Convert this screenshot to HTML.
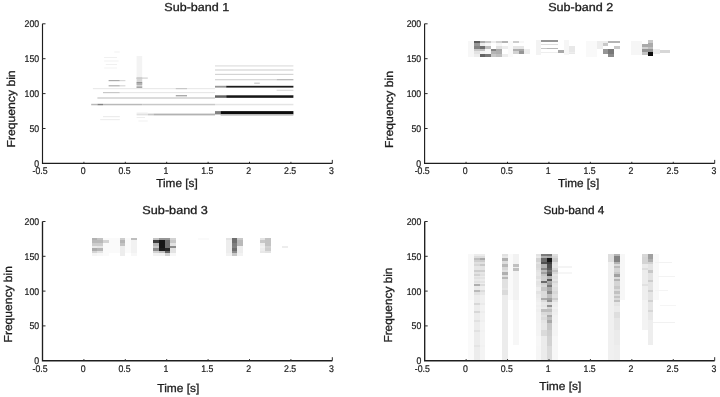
<!DOCTYPE html>
<html><head><meta charset="utf-8"><title>Sub-band spectrograms</title>
<style>
html,body{margin:0;padding:0;background:#fff;}
svg{display:block;}
.tk{font-family:"Liberation Sans", Arial, Helvetica, sans-serif;font-size:9.7px;fill:#1c1c1c;stroke:#1c1c1c;stroke-width:0.22px;text-rendering:geometricPrecision;}
.lb{font-family:"Liberation Sans", Arial, Helvetica, sans-serif;font-size:11.5px;fill:#1c1c1c;stroke:#1c1c1c;stroke-width:0.3px;text-rendering:geometricPrecision;}
.ax{fill:none;stroke:#1e1e1e;stroke-width:1.15px;}
.tkl{fill:none;stroke:#2a2a2a;stroke-width:1px;}
</style></head><body>
<svg width="720" height="397" viewBox="0 0 720 397">
<defs><filter id="sb" x="-5%" y="-5%" width="110%" height="110%"><feGaussianBlur stdDeviation="0.45"/></filter></defs>
<rect width="720" height="397" fill="#fff"/>
<g filter="url(#sb)"><rect x="104.1" y="57.0" width="12.9" height="1.0" fill="rgb(240,240,240)"/><rect x="104.1" y="60.5" width="14.6" height="1.0" fill="rgb(242,242,242)"/><rect x="105.8" y="64.0" width="11.2" height="1.0" fill="rgb(240,240,240)"/><rect x="104.1" y="67.5" width="12.9" height="1.0" fill="rgb(243,243,243)"/><rect x="114.2" y="51.5" width="5.6" height="1.0" fill="rgb(242,242,242)"/><rect x="103.0" y="116.0" width="16.8" height="1.2" fill="rgb(236,236,236)"/><rect x="100.2" y="119.0" width="19.6" height="1.2" fill="rgb(238,238,238)"/><rect x="136.6" y="112.5" width="11.2" height="1.0" fill="rgb(240,240,240)"/><rect x="136.6" y="117.0" width="8.4" height="1.0" fill="rgb(238,238,238)"/><rect x="138.3" y="120.5" width="9.5" height="1.0" fill="rgb(242,242,242)"/><rect x="92.9" y="88.0" width="122.1" height="1.2" fill="rgb(234,234,234)"/><rect x="103.0" y="92.0" width="16.8" height="1.2" fill="rgb(200,200,200)"/><rect x="119.8" y="92.0" width="95.2" height="1.2" fill="rgb(232,232,232)"/><rect x="97.4" y="97.3" width="117.6" height="1.4" fill="rgb(205,205,205)"/><rect x="91.2" y="103.8" width="6.2" height="1.5" fill="rgb(185,185,185)"/><rect x="97.4" y="103.8" width="5.6" height="1.5" fill="rgb(130,130,130)"/><rect x="103.0" y="103.8" width="39.2" height="1.5" fill="rgb(185,185,185)"/><rect x="142.2" y="103.8" width="72.8" height="1.5" fill="rgb(200,200,200)"/><rect x="215.0" y="103.8" width="78.4" height="1.5" fill="rgb(228,228,228)"/><rect x="136.6" y="113.6" width="11.2" height="1.8" fill="rgb(225,225,225)"/><rect x="147.8" y="113.6" width="5.6" height="1.8" fill="rgb(200,200,200)"/><rect x="153.4" y="113.6" width="61.6" height="1.8" fill="rgb(178,178,178)"/><rect x="136.6" y="56.0" width="5.6" height="21.0" fill="rgb(243,243,243)"/><rect x="136.6" y="77.0" width="5.6" height="11.0" fill="rgb(215,215,215)"/><rect x="136.6" y="77.8" width="5.6" height="1.2" fill="rgb(195,195,195)"/><rect x="136.6" y="82.0" width="5.6" height="1.4" fill="rgb(150,150,150)"/><rect x="136.6" y="83.4" width="5.6" height="1.4" fill="rgb(170,170,170)"/><rect x="136.6" y="86.5" width="5.6" height="1.5" fill="rgb(165,165,165)"/><rect x="108.6" y="80.0" width="11.2" height="1.2" fill="rgb(170,170,170)"/><rect x="108.6" y="85.2" width="11.2" height="1.2" fill="rgb(175,175,175)"/><rect x="119.8" y="80.0" width="5.6" height="1.2" fill="rgb(215,215,215)"/><rect x="119.8" y="85.2" width="5.6" height="1.2" fill="rgb(215,215,215)"/><rect x="136.6" y="77.5" width="11.2" height="1.2" fill="rgb(210,210,210)"/><rect x="175.8" y="88.0" width="11.2" height="1.2" fill="rgb(200,200,200)"/><rect x="175.8" y="95.0" width="11.2" height="1.4" fill="rgb(170,170,170)"/><rect x="215.0" y="85.8" width="11.2" height="1.8" fill="rgb(150,150,150)"/><rect x="226.2" y="85.8" width="67.2" height="1.8" fill="rgb(30,30,30)"/><rect x="215.0" y="95.3" width="11.2" height="2.5" fill="rgb(100,100,100)"/><rect x="226.2" y="95.3" width="67.2" height="2.5" fill="rgb(20,20,20)"/><rect x="215.0" y="111.1" width="5.6" height="3.3" fill="rgb(130,130,130)"/><rect x="220.6" y="111.1" width="72.8" height="3.3" fill="rgb(10,10,10)"/><rect x="220.6" y="114.4" width="72.8" height="1.4" fill="rgb(200,200,200)"/><rect x="215.0" y="65.3" width="78.4" height="1.2" fill="rgb(222,222,222)"/><rect x="215.0" y="69.4" width="78.4" height="1.2" fill="rgb(212,212,212)"/><rect x="215.0" y="73.8" width="78.4" height="1.2" fill="rgb(212,212,212)"/><rect x="215.0" y="79.1" width="61.6" height="1.2" fill="rgb(212,212,212)"/><rect x="276.6" y="79.1" width="16.8" height="1.2" fill="rgb(180,180,180)"/><rect x="254.2" y="82.6" width="5.6" height="1.2" fill="rgb(200,200,200)"/><rect x="276.6" y="89.7" width="16.8" height="1.2" fill="rgb(220,220,220)"/></g>
<path d="M42.5 23.8V163.4H332.3" class="ax"/>
<text transform="translate(40.1 174.3) scale(0.9 1)" class="tk" text-anchor="middle">-0.5</text>
<text transform="translate(83.1 174.3) scale(0.9 1)" class="tk" text-anchor="middle">0</text>
<text transform="translate(124.5 174.3) scale(0.9 1)" class="tk" text-anchor="middle">0.5</text>
<text transform="translate(165.9 174.3) scale(0.9 1)" class="tk" text-anchor="middle">1</text>
<text transform="translate(207.3 174.3) scale(0.9 1)" class="tk" text-anchor="middle">1.5</text>
<text transform="translate(248.7 174.3) scale(0.9 1)" class="tk" text-anchor="middle">2</text>
<text transform="translate(290.1 174.3) scale(0.9 1)" class="tk" text-anchor="middle">2.5</text>
<text transform="translate(331.5 174.3) scale(0.9 1)" class="tk" text-anchor="middle">3</text>
<text transform="translate(39.1 166.9) scale(0.9 1)" class="tk" text-anchor="end">0</text>
<text transform="translate(39.1 132) scale(0.9 1)" class="tk" text-anchor="end">50</text>
<text transform="translate(39.1 97.1) scale(0.9 1)" class="tk" text-anchor="end">100</text>
<text transform="translate(39.1 62.2) scale(0.9 1)" class="tk" text-anchor="end">150</text>
<text transform="translate(39.1 27.3) scale(0.9 1)" class="tk" text-anchor="end">200</text>
<path d="M83.9 163.4v-1.6 M125.3 163.4v-1.6 M166.7 163.4v-1.6 M208.1 163.4v-1.6 M249.5 163.4v-1.6 M290.9 163.4v-1.6 M332.3 163.4v-3.5 M42.5 128.5h3 M42.5 93.6h3 M42.5 58.7h3 M42.5 23.8h3" class="tkl"/>
<text x="196.8" y="11.1" class="lb" text-anchor="middle" textLength="65" lengthAdjust="spacingAndGlyphs">Sub-band 1</text>
<text x="176.95" y="186.7" class="lb" text-anchor="middle" textLength="41.5" lengthAdjust="spacingAndGlyphs">Time [s]</text>
<text transform="translate(15.1 108.9) rotate(-90)" class="lb" text-anchor="middle" textLength="77" lengthAdjust="spacingAndGlyphs">Frequency bin</text>
<g filter="url(#sb)" shape-rendering="crispEdges"><rect x="468.4" y="40.6" width="5.6" height="2.7" fill="rgb(247,247,247)"/><rect x="468.4" y="43.3" width="5.6" height="2.7" fill="rgb(247,247,247)"/><rect x="468.4" y="46.0" width="5.6" height="2.7" fill="rgb(247,247,247)"/><rect x="468.4" y="48.7" width="5.6" height="2.7" fill="rgb(247,247,247)"/><rect x="468.4" y="51.4" width="5.6" height="2.7" fill="rgb(247,247,247)"/><rect x="468.4" y="54.1" width="5.6" height="2.7" fill="rgb(247,247,247)"/><rect x="474.0" y="40.6" width="5.6" height="2.7" fill="rgb(90,90,90)"/><rect x="474.0" y="43.3" width="5.6" height="2.7" fill="rgb(150,150,150)"/><rect x="474.0" y="46.0" width="5.6" height="2.7" fill="rgb(130,130,130)"/><rect x="474.0" y="48.7" width="5.6" height="2.7" fill="rgb(200,200,200)"/><rect x="474.0" y="51.4" width="5.6" height="2.7" fill="rgb(227,227,227)"/><rect x="474.0" y="54.1" width="5.6" height="2.7" fill="rgb(237,237,237)"/><rect x="479.6" y="40.6" width="5.6" height="2.7" fill="rgb(170,170,170)"/><rect x="479.6" y="43.3" width="5.6" height="2.7" fill="rgb(237,237,237)"/><rect x="479.6" y="46.0" width="5.6" height="2.7" fill="rgb(110,110,110)"/><rect x="479.6" y="48.7" width="5.6" height="2.7" fill="rgb(195,195,195)"/><rect x="479.6" y="51.4" width="5.6" height="2.7" fill="rgb(242,242,242)"/><rect x="479.6" y="54.1" width="5.6" height="2.7" fill="rgb(100,100,100)"/><rect x="485.2" y="40.6" width="5.6" height="2.7" fill="rgb(200,200,200)"/><rect x="485.2" y="43.3" width="5.6" height="2.7" fill="rgb(247,247,247)"/><rect x="485.2" y="46.0" width="5.6" height="2.7" fill="rgb(190,190,190)"/><rect x="485.2" y="48.7" width="5.6" height="2.7" fill="rgb(247,247,247)"/><rect x="485.2" y="51.4" width="5.6" height="2.7" fill="rgb(247,247,247)"/><rect x="485.2" y="54.1" width="5.6" height="2.7" fill="rgb(120,120,120)"/><rect x="490.8" y="40.6" width="5.6" height="2.7" fill="rgb(237,237,237)"/><rect x="490.8" y="48.7" width="5.6" height="2.7" fill="rgb(130,130,130)"/><rect x="490.8" y="51.4" width="5.6" height="2.7" fill="rgb(180,180,180)"/><rect x="490.8" y="54.1" width="5.6" height="2.7" fill="rgb(200,200,200)"/><rect x="496.4" y="40.6" width="5.6" height="2.7" fill="rgb(210,210,210)"/><rect x="496.4" y="43.3" width="5.6" height="2.7" fill="rgb(247,247,247)"/><rect x="496.4" y="46.0" width="5.6" height="2.7" fill="rgb(227,227,227)"/><rect x="496.4" y="48.7" width="5.6" height="2.7" fill="rgb(170,170,170)"/><rect x="496.4" y="51.4" width="5.6" height="2.7" fill="rgb(175,175,175)"/><rect x="496.4" y="54.1" width="5.6" height="2.7" fill="rgb(190,190,190)"/><rect x="502.0" y="40.6" width="5.6" height="2.7" fill="rgb(180,180,180)"/><rect x="502.0" y="46.0" width="5.6" height="2.7" fill="rgb(237,237,237)"/><rect x="502.0" y="54.1" width="5.6" height="2.7" fill="rgb(237,237,237)"/><rect x="507.6" y="40.6" width="5.6" height="2.7" fill="rgb(250,250,250)"/><rect x="507.6" y="43.3" width="5.6" height="2.7" fill="rgb(250,250,250)"/><rect x="507.6" y="46.0" width="5.6" height="2.7" fill="rgb(250,250,250)"/><rect x="507.6" y="48.7" width="5.6" height="2.7" fill="rgb(250,250,250)"/><rect x="507.6" y="51.4" width="5.6" height="2.7" fill="rgb(250,250,250)"/><rect x="507.6" y="54.1" width="5.6" height="2.7" fill="rgb(250,250,250)"/><rect x="513.2" y="40.6" width="5.6" height="2.7" fill="rgb(205,205,205)"/><rect x="513.2" y="46.0" width="5.6" height="2.7" fill="rgb(230,230,230)"/><rect x="513.2" y="48.7" width="5.6" height="2.7" fill="rgb(175,175,175)"/><rect x="513.2" y="51.4" width="5.6" height="2.7" fill="rgb(210,210,210)"/><rect x="518.8" y="40.6" width="5.6" height="2.7" fill="rgb(247,247,247)"/><rect x="518.8" y="46.0" width="5.6" height="2.7" fill="rgb(230,230,230)"/><rect x="518.8" y="48.7" width="5.6" height="2.7" fill="rgb(168,168,168)"/><rect x="518.8" y="51.4" width="5.6" height="2.7" fill="rgb(150,150,150)"/><rect x="524.4" y="48.7" width="5.6" height="2.7" fill="rgb(237,237,237)"/><rect x="524.4" y="51.4" width="5.6" height="2.7" fill="rgb(237,237,237)"/><rect x="569.2" y="46.0" width="5.6" height="2.7" fill="rgb(232,232,232)"/><rect x="569.2" y="48.7" width="5.6" height="2.7" fill="rgb(232,232,232)"/><rect x="569.2" y="51.4" width="5.6" height="2.7" fill="rgb(232,232,232)"/><rect x="586.0" y="40.6" width="5.6" height="2.7" fill="rgb(249,249,249)"/><rect x="586.0" y="43.3" width="5.6" height="2.7" fill="rgb(249,249,249)"/><rect x="586.0" y="46.0" width="5.6" height="2.7" fill="rgb(249,249,249)"/><rect x="586.0" y="48.7" width="5.6" height="2.7" fill="rgb(249,249,249)"/><rect x="586.0" y="51.4" width="5.6" height="2.7" fill="rgb(249,249,249)"/><rect x="586.0" y="54.1" width="5.6" height="2.7" fill="rgb(249,249,249)"/><rect x="591.6" y="40.6" width="5.6" height="2.7" fill="rgb(249,249,249)"/><rect x="591.6" y="43.3" width="5.6" height="2.7" fill="rgb(249,249,249)"/><rect x="591.6" y="46.0" width="5.6" height="2.7" fill="rgb(249,249,249)"/><rect x="591.6" y="48.7" width="5.6" height="2.7" fill="rgb(249,249,249)"/><rect x="591.6" y="51.4" width="5.6" height="2.7" fill="rgb(249,249,249)"/><rect x="591.6" y="54.1" width="5.6" height="2.7" fill="rgb(249,249,249)"/><rect x="597.2" y="40.6" width="5.6" height="2.7" fill="rgb(237,237,237)"/><rect x="597.2" y="43.3" width="5.6" height="2.7" fill="rgb(237,237,237)"/><rect x="597.2" y="46.0" width="5.6" height="2.7" fill="rgb(237,237,237)"/><rect x="602.8" y="40.6" width="5.6" height="2.7" fill="rgb(237,237,237)"/><rect x="602.8" y="43.3" width="5.6" height="2.7" fill="rgb(200,200,200)"/><rect x="602.8" y="48.7" width="5.6" height="2.7" fill="rgb(150,150,150)"/><rect x="602.8" y="51.4" width="5.6" height="2.7" fill="rgb(150,150,150)"/><rect x="608.4" y="40.6" width="5.6" height="2.7" fill="rgb(180,180,180)"/><rect x="608.4" y="48.7" width="5.6" height="2.7" fill="rgb(120,120,120)"/><rect x="608.4" y="51.4" width="5.6" height="2.7" fill="rgb(120,120,120)"/><rect x="608.4" y="54.1" width="5.6" height="2.7" fill="rgb(140,140,140)"/><rect x="614.0" y="40.6" width="5.6" height="2.7" fill="rgb(180,180,180)"/><rect x="614.0" y="46.0" width="5.6" height="2.7" fill="rgb(200,200,200)"/><rect x="535.6" y="40.0" width="5.6" height="15.0" fill="rgb(243,243,243)"/><rect x="541.2" y="40.3" width="16.8" height="1.6" fill="rgb(148,148,148)"/><rect x="541.2" y="43.8" width="16.8" height="1.4" fill="rgb(222,222,222)"/><rect x="541.2" y="47.7" width="5.6" height="1.6" fill="rgb(200,200,200)"/><rect x="546.8" y="47.7" width="11.2" height="1.6" fill="rgb(185,185,185)"/><rect x="541.2" y="51.6" width="33.8" height="1.4" fill="rgb(238,238,238)"/><rect x="558.0" y="49.8" width="5.6" height="3.2" fill="rgb(168,168,168)"/><rect x="563.6" y="40.0" width="5.6" height="15.0" fill="rgb(246,246,246)"/><rect x="631.0" y="41.0" width="11.0" height="14.0" fill="rgb(246,246,246)"/><rect x="642.0" y="43.9" width="5.6" height="2.8" fill="rgb(170,170,170)"/><rect x="642.0" y="46.7" width="5.6" height="2.1" fill="rgb(210,210,210)"/><rect x="642.0" y="48.8" width="5.6" height="2.7" fill="rgb(150,150,150)"/><rect x="642.0" y="51.5" width="5.6" height="3.5" fill="rgb(195,195,195)"/><rect x="647.6" y="40.3" width="5.6" height="2.7" fill="rgb(200,200,200)"/><rect x="647.6" y="43.0" width="5.6" height="3.5" fill="rgb(170,170,170)"/><rect x="647.6" y="46.5" width="5.6" height="2.5" fill="rgb(190,190,190)"/><rect x="647.6" y="49.0" width="5.6" height="3.0" fill="rgb(150,150,150)"/><rect x="647.6" y="52.0" width="5.6" height="3.5" fill="rgb(12,12,12)"/><rect x="653.2" y="49.0" width="6.8" height="5.0" fill="rgb(236,236,236)"/><rect x="660.0" y="50.0" width="10.0" height="3.0" fill="rgb(215,215,215)"/></g>
<path d="M424.6 23.8V163.4H714.7" class="ax"/>
<text transform="translate(422.2 174.3) scale(0.9 1)" class="tk" text-anchor="middle">-0.5</text>
<text transform="translate(465.24 174.3) scale(0.9 1)" class="tk" text-anchor="middle">0</text>
<text transform="translate(506.69 174.3) scale(0.9 1)" class="tk" text-anchor="middle">0.5</text>
<text transform="translate(548.13 174.3) scale(0.9 1)" class="tk" text-anchor="middle">1</text>
<text transform="translate(589.57 174.3) scale(0.9 1)" class="tk" text-anchor="middle">1.5</text>
<text transform="translate(631.01 174.3) scale(0.9 1)" class="tk" text-anchor="middle">2</text>
<text transform="translate(672.46 174.3) scale(0.9 1)" class="tk" text-anchor="middle">2.5</text>
<text transform="translate(713.9 174.3) scale(0.9 1)" class="tk" text-anchor="middle">3</text>
<text transform="translate(421.2 166.9) scale(0.9 1)" class="tk" text-anchor="end">0</text>
<text transform="translate(421.2 132) scale(0.9 1)" class="tk" text-anchor="end">50</text>
<text transform="translate(421.2 97.1) scale(0.9 1)" class="tk" text-anchor="end">100</text>
<text transform="translate(421.2 62.2) scale(0.9 1)" class="tk" text-anchor="end">150</text>
<text transform="translate(421.2 27.3) scale(0.9 1)" class="tk" text-anchor="end">200</text>
<path d="M466.04 163.4v-1.6 M507.49 163.4v-1.6 M548.93 163.4v-1.6 M590.37 163.4v-1.6 M631.81 163.4v-1.6 M673.26 163.4v-1.6 M714.7 163.4v-3.5 M424.6 128.5h3 M424.6 93.6h3 M424.6 58.7h3 M424.6 23.8h3" class="tkl"/>
<text x="580.65" y="11.1" class="lb" text-anchor="middle" textLength="65" lengthAdjust="spacingAndGlyphs">Sub-band 2</text>
<text x="578.6" y="187.2" class="lb" text-anchor="middle" textLength="41.2" lengthAdjust="spacingAndGlyphs">Time [s]</text>
<text transform="translate(393.1 109.5) rotate(-90)" class="lb" text-anchor="middle" textLength="77" lengthAdjust="spacingAndGlyphs">Frequency bin</text>
<g filter="url(#sb)" shape-rendering="crispEdges"><rect x="91.8" y="237.8" width="5.6" height="2.6" fill="rgb(178,178,178)"/><rect x="91.8" y="240.4" width="5.6" height="2.6" fill="rgb(185,185,185)"/><rect x="91.8" y="243.0" width="5.6" height="2.6" fill="rgb(205,205,205)"/><rect x="91.8" y="245.6" width="5.6" height="2.6" fill="rgb(234,234,234)"/><rect x="91.8" y="248.2" width="5.6" height="2.6" fill="rgb(172,172,172)"/><rect x="91.8" y="250.8" width="5.6" height="2.6" fill="rgb(212,212,212)"/><rect x="91.8" y="253.4" width="5.6" height="2.6" fill="rgb(244,244,244)"/><rect x="97.4" y="237.8" width="5.6" height="2.6" fill="rgb(195,195,195)"/><rect x="97.4" y="240.4" width="5.6" height="2.6" fill="rgb(185,185,185)"/><rect x="97.4" y="243.0" width="5.6" height="2.6" fill="rgb(205,205,205)"/><rect x="97.4" y="245.6" width="5.6" height="2.6" fill="rgb(230,230,230)"/><rect x="97.4" y="248.2" width="5.6" height="2.6" fill="rgb(182,182,182)"/><rect x="97.4" y="250.8" width="5.6" height="2.6" fill="rgb(227,227,227)"/><rect x="97.4" y="253.4" width="5.6" height="2.6" fill="rgb(247,247,247)"/><rect x="103.0" y="237.8" width="5.6" height="2.6" fill="rgb(250,250,250)"/><rect x="103.0" y="240.4" width="5.6" height="2.6" fill="rgb(212,212,212)"/><rect x="103.0" y="243.0" width="5.6" height="2.6" fill="rgb(250,250,250)"/><rect x="103.0" y="245.6" width="5.6" height="2.6" fill="rgb(250,250,250)"/><rect x="103.0" y="248.2" width="5.6" height="2.6" fill="rgb(250,250,250)"/><rect x="103.0" y="250.8" width="5.6" height="2.6" fill="rgb(250,250,250)"/><rect x="103.0" y="253.4" width="5.6" height="2.6" fill="rgb(250,250,250)"/><rect x="108.6" y="237.8" width="5.6" height="2.6" fill="rgb(250,250,250)"/><rect x="108.6" y="240.4" width="5.6" height="2.6" fill="rgb(250,250,250)"/><rect x="108.6" y="243.0" width="5.6" height="2.6" fill="rgb(250,250,250)"/><rect x="108.6" y="245.6" width="5.6" height="2.6" fill="rgb(250,250,250)"/><rect x="108.6" y="248.2" width="5.6" height="2.6" fill="rgb(250,250,250)"/><rect x="108.6" y="250.8" width="5.6" height="2.6" fill="rgb(250,250,250)"/><rect x="114.2" y="237.8" width="5.6" height="2.6" fill="rgb(250,250,250)"/><rect x="114.2" y="240.4" width="5.6" height="2.6" fill="rgb(250,250,250)"/><rect x="114.2" y="243.0" width="5.6" height="2.6" fill="rgb(250,250,250)"/><rect x="114.2" y="245.6" width="5.6" height="2.6" fill="rgb(250,250,250)"/><rect x="114.2" y="248.2" width="5.6" height="2.6" fill="rgb(250,250,250)"/><rect x="114.2" y="250.8" width="5.6" height="2.6" fill="rgb(250,250,250)"/><rect x="119.8" y="237.8" width="5.6" height="2.6" fill="rgb(205,205,205)"/><rect x="119.8" y="240.4" width="5.6" height="2.6" fill="rgb(180,180,180)"/><rect x="119.8" y="243.0" width="5.6" height="2.6" fill="rgb(195,195,195)"/><rect x="119.8" y="245.6" width="5.6" height="2.6" fill="rgb(237,237,237)"/><rect x="119.8" y="248.2" width="5.6" height="2.6" fill="rgb(237,237,237)"/><rect x="119.8" y="250.8" width="5.6" height="2.6" fill="rgb(237,237,237)"/><rect x="119.8" y="253.4" width="5.6" height="2.6" fill="rgb(237,237,237)"/><rect x="125.4" y="237.8" width="5.6" height="2.6" fill="rgb(250,250,250)"/><rect x="125.4" y="240.4" width="5.6" height="2.6" fill="rgb(250,250,250)"/><rect x="125.4" y="243.0" width="5.6" height="2.6" fill="rgb(250,250,250)"/><rect x="125.4" y="245.6" width="5.6" height="2.6" fill="rgb(250,250,250)"/><rect x="125.4" y="248.2" width="5.6" height="2.6" fill="rgb(250,250,250)"/><rect x="125.4" y="250.8" width="5.6" height="2.6" fill="rgb(250,250,250)"/><rect x="131.0" y="237.8" width="5.6" height="2.6" fill="rgb(190,190,190)"/><rect x="131.0" y="240.4" width="5.6" height="2.6" fill="rgb(242,242,242)"/><rect x="131.0" y="243.0" width="5.6" height="2.6" fill="rgb(242,242,242)"/><rect x="131.0" y="245.6" width="5.6" height="2.6" fill="rgb(242,242,242)"/><rect x="131.0" y="248.2" width="5.6" height="2.6" fill="rgb(242,242,242)"/><rect x="131.0" y="250.8" width="5.6" height="2.6" fill="rgb(242,242,242)"/><rect x="131.0" y="253.4" width="5.6" height="2.6" fill="rgb(247,247,247)"/><rect x="153.4" y="237.8" width="5.6" height="2.6" fill="rgb(195,195,195)"/><rect x="153.4" y="240.4" width="5.6" height="2.6" fill="rgb(60,60,60)"/><rect x="153.4" y="243.0" width="5.6" height="2.6" fill="rgb(180,180,180)"/><rect x="153.4" y="245.6" width="5.6" height="2.6" fill="rgb(200,200,200)"/><rect x="153.4" y="248.2" width="5.6" height="2.6" fill="rgb(140,140,140)"/><rect x="153.4" y="250.8" width="5.6" height="2.6" fill="rgb(210,210,210)"/><rect x="153.4" y="253.4" width="5.6" height="2.6" fill="rgb(242,242,242)"/><rect x="159.0" y="237.8" width="5.6" height="2.6" fill="rgb(150,150,150)"/><rect x="159.0" y="240.4" width="5.6" height="2.6" fill="rgb(20,20,20)"/><rect x="159.0" y="243.0" width="5.6" height="2.6" fill="rgb(20,20,20)"/><rect x="159.0" y="245.6" width="5.6" height="2.6" fill="rgb(20,20,20)"/><rect x="159.0" y="248.2" width="5.6" height="2.6" fill="rgb(30,30,30)"/><rect x="159.0" y="250.8" width="5.6" height="2.6" fill="rgb(190,190,190)"/><rect x="159.0" y="253.4" width="5.6" height="2.6" fill="rgb(242,242,242)"/><rect x="164.6" y="237.8" width="5.6" height="2.6" fill="rgb(150,150,150)"/><rect x="164.6" y="240.4" width="5.6" height="2.6" fill="rgb(110,110,110)"/><rect x="164.6" y="243.0" width="5.6" height="2.6" fill="rgb(110,110,110)"/><rect x="164.6" y="245.6" width="5.6" height="2.6" fill="rgb(110,110,110)"/><rect x="164.6" y="248.2" width="5.6" height="2.6" fill="rgb(40,40,40)"/><rect x="164.6" y="250.8" width="5.6" height="2.6" fill="rgb(100,100,100)"/><rect x="164.6" y="253.4" width="5.6" height="2.6" fill="rgb(210,210,210)"/><rect x="170.2" y="237.8" width="5.6" height="2.6" fill="rgb(210,210,210)"/><rect x="170.2" y="240.4" width="5.6" height="2.6" fill="rgb(200,200,200)"/><rect x="170.2" y="243.0" width="5.6" height="2.6" fill="rgb(227,227,227)"/><rect x="170.2" y="245.6" width="5.6" height="2.6" fill="rgb(140,140,140)"/><rect x="170.2" y="248.2" width="5.6" height="2.6" fill="rgb(227,227,227)"/><rect x="170.2" y="250.8" width="5.6" height="2.6" fill="rgb(227,227,227)"/><rect x="170.2" y="253.4" width="5.6" height="2.6" fill="rgb(247,247,247)"/><rect x="198.2" y="237.8" width="5.6" height="2.6" fill="rgb(250,250,250)"/><rect x="203.8" y="237.8" width="5.6" height="2.6" fill="rgb(250,250,250)"/><rect x="226.2" y="237.8" width="5.6" height="2.6" fill="rgb(227,227,227)"/><rect x="226.2" y="240.4" width="5.6" height="2.6" fill="rgb(237,237,237)"/><rect x="226.2" y="243.0" width="5.6" height="2.6" fill="rgb(237,237,237)"/><rect x="226.2" y="245.6" width="5.6" height="2.6" fill="rgb(237,237,237)"/><rect x="226.2" y="248.2" width="5.6" height="2.6" fill="rgb(237,237,237)"/><rect x="226.2" y="250.8" width="5.6" height="2.6" fill="rgb(237,237,237)"/><rect x="226.2" y="253.4" width="5.6" height="2.6" fill="rgb(242,242,242)"/><rect x="231.8" y="237.8" width="5.6" height="2.6" fill="rgb(110,110,110)"/><rect x="231.8" y="240.4" width="5.6" height="2.6" fill="rgb(110,110,110)"/><rect x="231.8" y="243.0" width="5.6" height="2.6" fill="rgb(125,125,125)"/><rect x="231.8" y="245.6" width="5.6" height="2.6" fill="rgb(130,130,130)"/><rect x="231.8" y="248.2" width="5.6" height="2.6" fill="rgb(110,110,110)"/><rect x="231.8" y="250.8" width="5.6" height="2.6" fill="rgb(140,140,140)"/><rect x="231.8" y="253.4" width="5.6" height="2.6" fill="rgb(200,200,200)"/><rect x="237.4" y="237.8" width="5.6" height="2.6" fill="rgb(200,200,200)"/><rect x="237.4" y="240.4" width="5.6" height="2.6" fill="rgb(185,185,185)"/><rect x="237.4" y="243.0" width="5.6" height="2.6" fill="rgb(185,185,185)"/><rect x="237.4" y="245.6" width="5.6" height="2.6" fill="rgb(237,237,237)"/><rect x="237.4" y="248.2" width="5.6" height="2.6" fill="rgb(237,237,237)"/><rect x="237.4" y="250.8" width="5.6" height="2.6" fill="rgb(237,237,237)"/><rect x="237.4" y="253.4" width="5.6" height="2.6" fill="rgb(242,242,242)"/><rect x="259.8" y="237.8" width="5.6" height="2.6" fill="rgb(227,227,227)"/><rect x="259.8" y="240.4" width="5.6" height="2.6" fill="rgb(200,200,200)"/><rect x="259.8" y="243.0" width="5.6" height="2.6" fill="rgb(237,237,237)"/><rect x="259.8" y="245.6" width="5.6" height="2.6" fill="rgb(242,242,242)"/><rect x="259.8" y="248.2" width="5.6" height="2.6" fill="rgb(237,237,237)"/><rect x="259.8" y="250.8" width="5.6" height="2.6" fill="rgb(232,232,232)"/><rect x="265.4" y="237.8" width="5.6" height="2.6" fill="rgb(195,195,195)"/><rect x="265.4" y="240.4" width="5.6" height="2.6" fill="rgb(195,195,195)"/><rect x="265.4" y="243.0" width="5.6" height="2.6" fill="rgb(195,195,195)"/><rect x="265.4" y="245.6" width="5.6" height="2.6" fill="rgb(210,210,210)"/><rect x="265.4" y="248.2" width="5.6" height="2.6" fill="rgb(205,205,205)"/><rect x="265.4" y="250.8" width="5.6" height="2.6" fill="rgb(227,227,227)"/><rect x="282.2" y="245.6" width="5.6" height="2.6" fill="rgb(237,237,237)"/></g>
<path d="M42.5 221.5V360.7H332.3" class="ax" style="stroke-width:1.35px"/>
<text transform="translate(40.1 371.6) scale(0.9 1)" class="tk" text-anchor="middle">-0.5</text>
<text transform="translate(83.1 371.6) scale(0.9 1)" class="tk" text-anchor="middle">0</text>
<text transform="translate(124.5 371.6) scale(0.9 1)" class="tk" text-anchor="middle">0.5</text>
<text transform="translate(165.9 371.6) scale(0.9 1)" class="tk" text-anchor="middle">1</text>
<text transform="translate(207.3 371.6) scale(0.9 1)" class="tk" text-anchor="middle">1.5</text>
<text transform="translate(248.7 371.6) scale(0.9 1)" class="tk" text-anchor="middle">2</text>
<text transform="translate(290.1 371.6) scale(0.9 1)" class="tk" text-anchor="middle">2.5</text>
<text transform="translate(331.5 371.6) scale(0.9 1)" class="tk" text-anchor="middle">3</text>
<text transform="translate(39.1 364.2) scale(0.9 1)" class="tk" text-anchor="end">0</text>
<text transform="translate(39.1 329.4) scale(0.9 1)" class="tk" text-anchor="end">50</text>
<text transform="translate(39.1 294.6) scale(0.9 1)" class="tk" text-anchor="end">100</text>
<text transform="translate(39.1 259.8) scale(0.9 1)" class="tk" text-anchor="end">150</text>
<text transform="translate(39.1 225) scale(0.9 1)" class="tk" text-anchor="end">200</text>
<path d="M83.9 360.7v-1.6 M125.3 360.7v-1.6 M166.7 360.7v-1.6 M208.1 360.7v-1.6 M249.5 360.7v-1.6 M290.9 360.7v-1.6 M332.3 360.7v-3.5 M42.5 325.9h3 M42.5 291.1h3 M42.5 256.3h3 M42.5 221.5h3" class="tkl"/>
<text x="175.1" y="213.75" class="lb" text-anchor="middle" textLength="65.5" lengthAdjust="spacingAndGlyphs">Sub-band 3</text>
<text x="178.3" y="391.7" class="lb" text-anchor="middle" textLength="42" lengthAdjust="spacingAndGlyphs">Time [s]</text>
<text transform="translate(11.6 304.3) rotate(-90)" class="lb" text-anchor="middle" textLength="76.4" lengthAdjust="spacingAndGlyphs">Frequency bin</text>
<g filter="url(#sb)" shape-rendering="crispEdges"><rect x="468.4" y="253.5" width="5.6" height="46.5" fill="rgb(248,248,248)"/><rect x="468.4" y="300.0" width="5.6" height="60.0" fill="rgb(250,250,250)"/><rect x="474.0" y="253.5" width="5.6" height="2.5" fill="rgb(236,236,236)"/><rect x="474.0" y="256.0" width="5.6" height="1.5" fill="rgb(222,222,222)"/><rect x="474.0" y="257.5" width="5.6" height="2.0" fill="rgb(190,190,190)"/><rect x="474.0" y="259.5" width="5.6" height="2.0" fill="rgb(207,207,207)"/><rect x="474.0" y="261.5" width="5.6" height="2.5" fill="rgb(224,224,224)"/><rect x="474.0" y="264.0" width="5.6" height="2.0" fill="rgb(215,215,215)"/><rect x="474.0" y="266.0" width="5.6" height="4.0" fill="rgb(230,230,230)"/><rect x="474.0" y="270.0" width="5.6" height="2.0" fill="rgb(205,205,205)"/><rect x="474.0" y="272.0" width="5.6" height="2.0" fill="rgb(226,226,226)"/><rect x="474.0" y="274.0" width="5.6" height="1.5" fill="rgb(210,210,210)"/><rect x="474.0" y="275.5" width="5.6" height="1.5" fill="rgb(232,232,232)"/><rect x="474.0" y="277.0" width="5.6" height="2.0" fill="rgb(225,225,225)"/><rect x="474.0" y="279.0" width="5.6" height="2.0" fill="rgb(233,233,233)"/><rect x="474.0" y="281.0" width="5.6" height="1.5" fill="rgb(225,225,225)"/><rect x="474.0" y="282.5" width="5.6" height="1.5" fill="rgb(234,234,234)"/><rect x="474.0" y="284.0" width="5.6" height="2.0" fill="rgb(175,175,175)"/><rect x="474.0" y="286.0" width="5.6" height="3.5" fill="rgb(234,234,234)"/><rect x="474.0" y="289.5" width="5.6" height="2.0" fill="rgb(185,185,185)"/><rect x="474.0" y="291.5" width="5.6" height="3.5" fill="rgb(225,225,225)"/><rect x="474.0" y="295.0" width="5.6" height="8.0" fill="rgb(236,236,236)"/><rect x="474.0" y="303.0" width="5.6" height="2.0" fill="rgb(215,215,215)"/><rect x="474.0" y="305.0" width="5.6" height="6.0" fill="rgb(236,236,236)"/><rect x="474.0" y="311.0" width="5.6" height="2.0" fill="rgb(215,215,215)"/><rect x="474.0" y="313.0" width="5.6" height="7.0" fill="rgb(236,236,236)"/><rect x="474.0" y="320.0" width="5.6" height="2.0" fill="rgb(225,225,225)"/><rect x="474.0" y="322.0" width="5.6" height="8.0" fill="rgb(236,236,236)"/><rect x="474.0" y="330.0" width="5.6" height="2.0" fill="rgb(225,225,225)"/><rect x="474.0" y="332.0" width="5.6" height="13.0" fill="rgb(236,236,236)"/><rect x="474.0" y="345.0" width="5.6" height="2.0" fill="rgb(228,228,228)"/><rect x="474.0" y="347.0" width="5.6" height="13.0" fill="rgb(236,236,236)"/><rect x="479.6" y="253.5" width="5.6" height="2.5" fill="rgb(236,236,236)"/><rect x="479.6" y="256.0" width="5.6" height="1.5" fill="rgb(222,222,222)"/><rect x="479.6" y="257.5" width="5.6" height="2.0" fill="rgb(170,170,170)"/><rect x="479.6" y="259.5" width="5.6" height="2.0" fill="rgb(205,205,205)"/><rect x="479.6" y="261.5" width="5.6" height="2.5" fill="rgb(224,224,224)"/><rect x="479.6" y="264.0" width="5.6" height="2.0" fill="rgb(200,200,200)"/><rect x="479.6" y="266.0" width="5.6" height="4.0" fill="rgb(228,228,228)"/><rect x="479.6" y="270.0" width="5.6" height="2.0" fill="rgb(208,208,208)"/><rect x="479.6" y="272.0" width="5.6" height="2.0" fill="rgb(230,230,230)"/><rect x="479.6" y="274.0" width="5.6" height="1.5" fill="rgb(225,225,225)"/><rect x="479.6" y="275.5" width="5.6" height="1.5" fill="rgb(235,235,235)"/><rect x="479.6" y="277.0" width="5.6" height="2.0" fill="rgb(228,228,228)"/><rect x="479.6" y="279.0" width="5.6" height="2.0" fill="rgb(236,236,236)"/><rect x="479.6" y="281.0" width="5.6" height="1.5" fill="rgb(228,228,228)"/><rect x="479.6" y="282.5" width="5.6" height="1.5" fill="rgb(238,238,238)"/><rect x="479.6" y="284.0" width="5.6" height="2.0" fill="rgb(220,220,220)"/><rect x="479.6" y="286.0" width="5.6" height="3.5" fill="rgb(238,238,238)"/><rect x="479.6" y="289.5" width="5.6" height="2.0" fill="rgb(220,220,220)"/><rect x="479.6" y="291.5" width="5.6" height="3.5" fill="rgb(232,232,232)"/><rect x="479.6" y="295.0" width="5.6" height="8.0" fill="rgb(240,240,240)"/><rect x="479.6" y="303.0" width="5.6" height="2.0" fill="rgb(235,235,235)"/><rect x="479.6" y="305.0" width="5.6" height="6.0" fill="rgb(242,242,242)"/><rect x="479.6" y="311.0" width="5.6" height="2.0" fill="rgb(238,238,238)"/><rect x="479.6" y="313.0" width="5.6" height="7.0" fill="rgb(242,242,242)"/><rect x="479.6" y="320.0" width="5.6" height="2.0" fill="rgb(240,240,240)"/><rect x="479.6" y="322.0" width="5.6" height="8.0" fill="rgb(244,244,244)"/><rect x="479.6" y="330.0" width="5.6" height="2.0" fill="rgb(242,242,242)"/><rect x="479.6" y="332.0" width="5.6" height="13.0" fill="rgb(244,244,244)"/><rect x="479.6" y="345.0" width="5.6" height="2.0" fill="rgb(242,242,242)"/><rect x="479.6" y="347.0" width="5.6" height="13.0" fill="rgb(244,244,244)"/><rect x="502.0" y="253.5" width="5.6" height="2.5" fill="rgb(225,225,225)"/><rect x="502.0" y="256.0" width="5.6" height="2.0" fill="rgb(232,232,232)"/><rect x="502.0" y="258.0" width="5.6" height="3.0" fill="rgb(176,176,176)"/><rect x="502.0" y="261.0" width="5.6" height="3.0" fill="rgb(221,221,221)"/><rect x="502.0" y="264.0" width="5.6" height="3.0" fill="rgb(184,184,184)"/><rect x="502.0" y="267.0" width="5.6" height="3.0" fill="rgb(214,214,214)"/><rect x="502.0" y="270.0" width="5.6" height="2.0" fill="rgb(225,225,225)"/><rect x="502.0" y="272.0" width="5.6" height="3.0" fill="rgb(176,176,176)"/><rect x="502.0" y="275.0" width="5.6" height="2.0" fill="rgb(221,221,221)"/><rect x="502.0" y="277.0" width="5.6" height="2.0" fill="rgb(184,184,184)"/><rect x="502.0" y="279.0" width="5.6" height="9.0" fill="rgb(225,225,225)"/><rect x="502.0" y="288.0" width="5.6" height="2.0" fill="rgb(229,229,229)"/><rect x="502.0" y="290.0" width="5.6" height="5.0" fill="rgb(218,218,218)"/><rect x="502.0" y="295.0" width="5.6" height="65.0" fill="rgb(236,236,236)"/><rect x="507.6" y="253.5" width="5.6" height="46.5" fill="rgb(250,250,250)"/><rect x="513.2" y="253.5" width="5.6" height="10.5" fill="rgb(242,242,242)"/><rect x="513.2" y="264.0" width="5.6" height="2.5" fill="rgb(192,192,192)"/><rect x="513.2" y="266.5" width="5.6" height="1.5" fill="rgb(238,238,238)"/><rect x="513.2" y="268.0" width="5.6" height="2.5" fill="rgb(192,192,192)"/><rect x="513.2" y="270.5" width="5.6" height="29.5" fill="rgb(242,242,242)"/><rect x="513.2" y="300.0" width="5.6" height="45.0" fill="rgb(247,247,247)"/><rect x="535.6" y="253.5" width="5.6" height="2.5" fill="rgb(227,227,227)"/><rect x="535.6" y="256.0" width="5.6" height="2.0" fill="rgb(234,234,234)"/><rect x="535.6" y="258.0" width="5.6" height="4.0" fill="rgb(210,210,210)"/><rect x="535.6" y="262.0" width="5.6" height="2.0" fill="rgb(224,224,224)"/><rect x="535.6" y="264.0" width="5.6" height="4.0" fill="rgb(216,216,216)"/><rect x="535.6" y="268.0" width="5.6" height="2.0" fill="rgb(220,220,220)"/><rect x="535.6" y="270.0" width="5.6" height="2.0" fill="rgb(227,227,227)"/><rect x="535.6" y="272.0" width="5.6" height="2.0" fill="rgb(230,230,230)"/><rect x="535.6" y="274.0" width="5.6" height="2.0" fill="rgb(230,230,230)"/><rect x="535.6" y="276.0" width="5.6" height="3.0" fill="rgb(224,224,224)"/><rect x="535.6" y="279.0" width="5.6" height="2.0" fill="rgb(234,234,234)"/><rect x="535.6" y="281.0" width="5.6" height="1.5" fill="rgb(227,227,227)"/><rect x="535.6" y="282.5" width="5.6" height="2.5" fill="rgb(227,227,227)"/><rect x="535.6" y="285.0" width="5.6" height="2.0" fill="rgb(230,230,230)"/><rect x="535.6" y="287.0" width="5.6" height="4.0" fill="rgb(238,238,238)"/><rect x="535.6" y="291.0" width="5.6" height="3.0" fill="rgb(227,227,227)"/><rect x="535.6" y="294.0" width="5.6" height="4.0" fill="rgb(234,234,234)"/><rect x="535.6" y="298.0" width="5.6" height="2.0" fill="rgb(237,237,237)"/><rect x="535.6" y="300.0" width="5.6" height="2.0" fill="rgb(239,239,239)"/><rect x="535.6" y="302.0" width="5.6" height="3.0" fill="rgb(242,242,242)"/><rect x="535.6" y="305.0" width="5.6" height="2.0" fill="rgb(239,239,239)"/><rect x="535.6" y="307.0" width="5.6" height="2.0" fill="rgb(242,242,242)"/><rect x="535.6" y="309.0" width="5.6" height="3.0" fill="rgb(239,239,239)"/><rect x="535.6" y="312.0" width="5.6" height="3.0" fill="rgb(242,242,242)"/><rect x="535.6" y="315.0" width="5.6" height="2.0" fill="rgb(242,242,242)"/><rect x="535.6" y="317.0" width="5.6" height="3.0" fill="rgb(242,242,242)"/><rect x="535.6" y="320.0" width="5.6" height="3.0" fill="rgb(242,242,242)"/><rect x="535.6" y="323.0" width="5.6" height="7.0" fill="rgb(243,243,243)"/><rect x="535.6" y="330.0" width="5.6" height="6.0" fill="rgb(244,244,244)"/><rect x="535.6" y="336.0" width="5.6" height="10.0" fill="rgb(247,247,247)"/><rect x="535.6" y="346.0" width="5.6" height="14.0" fill="rgb(246,246,246)"/><rect x="541.2" y="253.5" width="5.6" height="2.5" fill="rgb(124,124,124)"/><rect x="541.2" y="256.0" width="5.6" height="2.0" fill="rgb(178,178,178)"/><rect x="541.2" y="258.0" width="5.6" height="4.0" fill="rgb(106,106,106)"/><rect x="541.2" y="262.0" width="5.6" height="2.0" fill="rgb(80,80,80)"/><rect x="541.2" y="264.0" width="5.6" height="4.0" fill="rgb(178,178,178)"/><rect x="541.2" y="268.0" width="5.6" height="2.0" fill="rgb(134,134,134)"/><rect x="541.2" y="270.0" width="5.6" height="2.0" fill="rgb(188,188,188)"/><rect x="541.2" y="272.0" width="5.6" height="2.0" fill="rgb(160,160,160)"/><rect x="541.2" y="274.0" width="5.6" height="2.0" fill="rgb(196,196,196)"/><rect x="541.2" y="276.0" width="5.6" height="3.0" fill="rgb(206,206,206)"/><rect x="541.2" y="279.0" width="5.6" height="2.0" fill="rgb(206,206,206)"/><rect x="541.2" y="281.0" width="5.6" height="1.5" fill="rgb(106,106,106)"/><rect x="541.2" y="282.5" width="5.6" height="2.5" fill="rgb(206,206,206)"/><rect x="541.2" y="285.0" width="5.6" height="2.0" fill="rgb(214,214,214)"/><rect x="541.2" y="287.0" width="5.6" height="4.0" fill="rgb(196,196,196)"/><rect x="541.2" y="291.0" width="5.6" height="3.0" fill="rgb(219,219,219)"/><rect x="541.2" y="294.0" width="5.6" height="4.0" fill="rgb(219,219,219)"/><rect x="541.2" y="298.0" width="5.6" height="2.0" fill="rgb(171,171,171)"/><rect x="541.2" y="300.0" width="5.6" height="2.0" fill="rgb(218,218,218)"/><rect x="541.2" y="302.0" width="5.6" height="3.0" fill="rgb(231,231,231)"/><rect x="541.2" y="305.0" width="5.6" height="2.0" fill="rgb(228,228,228)"/><rect x="541.2" y="307.0" width="5.6" height="2.0" fill="rgb(235,235,235)"/><rect x="541.2" y="309.0" width="5.6" height="3.0" fill="rgb(191,191,191)"/><rect x="541.2" y="312.0" width="5.6" height="3.0" fill="rgb(218,218,218)"/><rect x="541.2" y="315.0" width="5.6" height="2.0" fill="rgb(225,225,225)"/><rect x="541.2" y="317.0" width="5.6" height="3.0" fill="rgb(218,218,218)"/><rect x="541.2" y="320.0" width="5.6" height="3.0" fill="rgb(228,228,228)"/><rect x="541.2" y="323.0" width="5.6" height="7.0" fill="rgb(231,231,231)"/><rect x="541.2" y="330.0" width="5.6" height="6.0" fill="rgb(218,218,218)"/><rect x="541.2" y="336.0" width="5.6" height="10.0" fill="rgb(235,235,235)"/><rect x="541.2" y="346.0" width="5.6" height="14.0" fill="rgb(235,235,235)"/><rect x="546.8" y="253.5" width="5.6" height="2.5" fill="rgb(120,120,120)"/><rect x="546.8" y="256.0" width="5.6" height="2.0" fill="rgb(170,170,170)"/><rect x="546.8" y="258.0" width="5.6" height="4.0" fill="rgb(20,20,20)"/><rect x="546.8" y="262.0" width="5.6" height="2.0" fill="rgb(60,60,60)"/><rect x="546.8" y="264.0" width="5.6" height="4.0" fill="rgb(80,80,80)"/><rect x="546.8" y="268.0" width="5.6" height="2.0" fill="rgb(90,90,90)"/><rect x="546.8" y="270.0" width="5.6" height="2.0" fill="rgb(120,120,120)"/><rect x="546.8" y="272.0" width="5.6" height="2.0" fill="rgb(100,100,100)"/><rect x="546.8" y="274.0" width="5.6" height="2.0" fill="rgb(70,70,70)"/><rect x="546.8" y="276.0" width="5.6" height="3.0" fill="rgb(180,180,180)"/><rect x="546.8" y="279.0" width="5.6" height="2.0" fill="rgb(90,90,90)"/><rect x="546.8" y="281.0" width="5.6" height="1.5" fill="rgb(170,170,170)"/><rect x="546.8" y="282.5" width="5.6" height="2.5" fill="rgb(160,160,160)"/><rect x="546.8" y="285.0" width="5.6" height="2.0" fill="rgb(120,120,120)"/><rect x="546.8" y="287.0" width="5.6" height="4.0" fill="rgb(170,170,170)"/><rect x="546.8" y="291.0" width="5.6" height="3.0" fill="rgb(140,140,140)"/><rect x="546.8" y="294.0" width="5.6" height="4.0" fill="rgb(190,190,190)"/><rect x="546.8" y="298.0" width="5.6" height="2.0" fill="rgb(161,161,161)"/><rect x="546.8" y="300.0" width="5.6" height="2.0" fill="rgb(146,146,146)"/><rect x="546.8" y="302.0" width="5.6" height="3.0" fill="rgb(221,221,221)"/><rect x="546.8" y="305.0" width="5.6" height="2.0" fill="rgb(146,146,146)"/><rect x="546.8" y="307.0" width="5.6" height="2.0" fill="rgb(214,214,214)"/><rect x="546.8" y="309.0" width="5.6" height="3.0" fill="rgb(191,191,191)"/><rect x="546.8" y="312.0" width="5.6" height="3.0" fill="rgb(214,214,214)"/><rect x="546.8" y="315.0" width="5.6" height="2.0" fill="rgb(169,169,169)"/><rect x="546.8" y="317.0" width="5.6" height="3.0" fill="rgb(191,191,191)"/><rect x="546.8" y="320.0" width="5.6" height="3.0" fill="rgb(169,169,169)"/><rect x="546.8" y="323.0" width="5.6" height="7.0" fill="rgb(199,199,199)"/><rect x="546.8" y="330.0" width="5.6" height="6.0" fill="rgb(206,206,206)"/><rect x="546.8" y="336.0" width="5.6" height="10.0" fill="rgb(210,210,210)"/><rect x="546.8" y="346.0" width="5.6" height="14.0" fill="rgb(218,218,218)"/><rect x="552.4" y="253.5" width="5.6" height="2.5" fill="rgb(224,224,224)"/><rect x="552.4" y="256.0" width="5.6" height="2.0" fill="rgb(216,216,216)"/><rect x="552.4" y="258.0" width="5.6" height="4.0" fill="rgb(202,202,202)"/><rect x="552.4" y="262.0" width="5.6" height="2.0" fill="rgb(227,227,227)"/><rect x="552.4" y="264.0" width="5.6" height="4.0" fill="rgb(230,230,230)"/><rect x="552.4" y="268.0" width="5.6" height="2.0" fill="rgb(216,216,216)"/><rect x="552.4" y="270.0" width="5.6" height="2.0" fill="rgb(196,196,196)"/><rect x="552.4" y="272.0" width="5.6" height="2.0" fill="rgb(216,216,216)"/><rect x="552.4" y="274.0" width="5.6" height="2.0" fill="rgb(230,230,230)"/><rect x="552.4" y="276.0" width="5.6" height="3.0" fill="rgb(224,224,224)"/><rect x="552.4" y="279.0" width="5.6" height="2.0" fill="rgb(230,230,230)"/><rect x="552.4" y="281.0" width="5.6" height="1.5" fill="rgb(216,216,216)"/><rect x="552.4" y="282.5" width="5.6" height="2.5" fill="rgb(227,227,227)"/><rect x="552.4" y="285.0" width="5.6" height="2.0" fill="rgb(230,230,230)"/><rect x="552.4" y="287.0" width="5.6" height="4.0" fill="rgb(224,224,224)"/><rect x="552.4" y="291.0" width="5.6" height="3.0" fill="rgb(216,216,216)"/><rect x="552.4" y="294.0" width="5.6" height="4.0" fill="rgb(224,224,224)"/><rect x="552.4" y="298.0" width="5.6" height="2.0" fill="rgb(205,205,205)"/><rect x="552.4" y="300.0" width="5.6" height="2.0" fill="rgb(226,226,226)"/><rect x="552.4" y="302.0" width="5.6" height="3.0" fill="rgb(239,239,239)"/><rect x="552.4" y="305.0" width="5.6" height="2.0" fill="rgb(239,239,239)"/><rect x="552.4" y="307.0" width="5.6" height="2.0" fill="rgb(242,242,242)"/><rect x="552.4" y="309.0" width="5.6" height="3.0" fill="rgb(237,237,237)"/><rect x="552.4" y="312.0" width="5.6" height="3.0" fill="rgb(239,239,239)"/><rect x="552.4" y="315.0" width="5.6" height="2.0" fill="rgb(242,242,242)"/><rect x="552.4" y="317.0" width="5.6" height="3.0" fill="rgb(242,242,242)"/><rect x="552.4" y="320.0" width="5.6" height="3.0" fill="rgb(242,242,242)"/><rect x="552.4" y="323.0" width="5.6" height="7.0" fill="rgb(244,244,244)"/><rect x="552.4" y="330.0" width="5.6" height="6.0" fill="rgb(244,244,244)"/><rect x="552.4" y="336.0" width="5.6" height="10.0" fill="rgb(247,247,247)"/><rect x="552.4" y="346.0" width="5.6" height="14.0" fill="rgb(247,247,247)"/><rect x="608.4" y="253.5" width="5.6" height="8.5" fill="rgb(222,222,222)"/><rect x="608.4" y="262.0" width="5.6" height="98.0" fill="rgb(240,240,240)"/><rect x="614.0" y="253.5" width="5.6" height="2.5" fill="rgb(180,180,180)"/><rect x="614.0" y="256.0" width="5.6" height="6.0" fill="rgb(130,130,130)"/><rect x="614.0" y="262.0" width="5.6" height="2.0" fill="rgb(180,180,180)"/><rect x="614.0" y="264.0" width="5.6" height="2.0" fill="rgb(219,219,219)"/><rect x="614.0" y="266.0" width="5.6" height="2.0" fill="rgb(187,187,187)"/><rect x="614.0" y="268.0" width="5.6" height="4.0" fill="rgb(213,213,213)"/><rect x="614.0" y="272.0" width="5.6" height="2.0" fill="rgb(200,200,200)"/><rect x="614.0" y="274.0" width="5.6" height="3.0" fill="rgb(161,161,161)"/><rect x="614.0" y="277.0" width="5.6" height="2.0" fill="rgb(219,219,219)"/><rect x="614.0" y="279.0" width="5.6" height="2.0" fill="rgb(180,180,180)"/><rect x="614.0" y="281.0" width="5.6" height="5.0" fill="rgb(213,213,213)"/><rect x="614.0" y="286.0" width="5.6" height="3.0" fill="rgb(200,200,200)"/><rect x="614.0" y="289.0" width="5.6" height="2.0" fill="rgb(219,219,219)"/><rect x="614.0" y="291.0" width="5.6" height="3.0" fill="rgb(193,193,193)"/><rect x="614.0" y="294.0" width="5.6" height="2.0" fill="rgb(219,219,219)"/><rect x="614.0" y="296.0" width="5.6" height="2.0" fill="rgb(196,196,196)"/><rect x="614.0" y="298.0" width="5.6" height="2.0" fill="rgb(219,219,219)"/><rect x="614.0" y="300.0" width="5.6" height="2.0" fill="rgb(192,192,192)"/><rect x="614.0" y="302.0" width="5.6" height="2.0" fill="rgb(230,230,230)"/><rect x="614.0" y="304.0" width="5.6" height="2.0" fill="rgb(228,228,228)"/><rect x="614.0" y="306.0" width="5.6" height="6.0" fill="rgb(235,235,235)"/><rect x="614.0" y="312.0" width="5.6" height="6.0" fill="rgb(222,222,222)"/><rect x="614.0" y="318.0" width="5.6" height="12.0" fill="rgb(230,230,230)"/><rect x="614.0" y="330.0" width="5.6" height="15.0" fill="rgb(235,235,235)"/><rect x="614.0" y="345.0" width="5.6" height="15.0" fill="rgb(238,238,238)"/><rect x="619.6" y="253.5" width="5.6" height="46.5" fill="rgb(247,247,247)"/><rect x="642.0" y="254.0" width="5.6" height="3.0" fill="rgb(215,215,215)"/><rect x="642.0" y="257.0" width="5.6" height="7.0" fill="rgb(212,212,212)"/><rect x="642.0" y="264.0" width="5.6" height="4.0" fill="rgb(235,235,235)"/><rect x="642.0" y="268.0" width="5.6" height="2.0" fill="rgb(222,222,222)"/><rect x="642.0" y="270.0" width="5.6" height="14.0" fill="rgb(236,236,236)"/><rect x="642.0" y="284.0" width="5.6" height="2.0" fill="rgb(225,225,225)"/><rect x="642.0" y="286.0" width="5.6" height="14.0" fill="rgb(238,238,238)"/><rect x="642.0" y="300.0" width="5.6" height="30.0" fill="rgb(243,243,243)"/><rect x="647.6" y="254.0" width="5.6" height="5.0" fill="rgb(160,160,160)"/><rect x="647.6" y="259.0" width="5.6" height="3.0" fill="rgb(175,175,175)"/><rect x="647.6" y="262.0" width="5.6" height="2.0" fill="rgb(210,210,210)"/><rect x="647.6" y="264.0" width="5.6" height="6.0" fill="rgb(228,228,228)"/><rect x="647.6" y="270.0" width="5.6" height="3.0" fill="rgb(200,200,200)"/><rect x="647.6" y="273.0" width="5.6" height="7.0" fill="rgb(226,226,226)"/><rect x="647.6" y="280.0" width="5.6" height="2.0" fill="rgb(205,205,205)"/><rect x="647.6" y="282.0" width="5.6" height="8.0" fill="rgb(228,228,228)"/><rect x="647.6" y="290.0" width="5.6" height="2.0" fill="rgb(208,208,208)"/><rect x="647.6" y="292.0" width="5.6" height="8.0" fill="rgb(228,228,228)"/><rect x="647.6" y="300.0" width="5.6" height="2.0" fill="rgb(210,210,210)"/><rect x="647.6" y="302.0" width="5.6" height="8.0" fill="rgb(230,230,230)"/><rect x="647.6" y="310.0" width="5.6" height="2.0" fill="rgb(215,215,215)"/><rect x="647.6" y="312.0" width="5.6" height="8.0" fill="rgb(232,232,232)"/><rect x="647.6" y="320.0" width="5.6" height="25.0" fill="rgb(238,238,238)"/><rect x="653.2" y="254.0" width="5.6" height="46.0" fill="rgb(248,248,248)"/><rect x="653.2" y="321.5" width="21.8" height="1.5" fill="rgb(241,241,241)"/><rect x="655.0" y="262.0" width="17.0" height="1.3" fill="rgb(242,242,242)"/><rect x="658.0" y="276.0" width="17.0" height="1.3" fill="rgb(243,243,243)"/><rect x="655.0" y="290.0" width="13.0" height="1.3" fill="rgb(244,244,244)"/><rect x="660.0" y="305.0" width="16.0" height="1.3" fill="rgb(245,245,245)"/><rect x="558.0" y="266.0" width="14.0" height="1.5" fill="rgb(244,244,244)"/><rect x="558.0" y="272.0" width="14.0" height="1.5" fill="rgb(246,246,246)"/></g>
<path d="M424.7 221.5V360.7H714.7" class="ax" style="stroke-width:1.35px"/>
<text transform="translate(422.3 371.6) scale(0.9 1)" class="tk" text-anchor="middle">-0.5</text>
<text transform="translate(465.33 371.6) scale(0.9 1)" class="tk" text-anchor="middle">0</text>
<text transform="translate(506.76 371.6) scale(0.9 1)" class="tk" text-anchor="middle">0.5</text>
<text transform="translate(548.19 371.6) scale(0.9 1)" class="tk" text-anchor="middle">1</text>
<text transform="translate(589.61 371.6) scale(0.9 1)" class="tk" text-anchor="middle">1.5</text>
<text transform="translate(631.04 371.6) scale(0.9 1)" class="tk" text-anchor="middle">2</text>
<text transform="translate(672.47 371.6) scale(0.9 1)" class="tk" text-anchor="middle">2.5</text>
<text transform="translate(713.9 371.6) scale(0.9 1)" class="tk" text-anchor="middle">3</text>
<text transform="translate(421.3 364.2) scale(0.9 1)" class="tk" text-anchor="end">0</text>
<text transform="translate(421.3 329.4) scale(0.9 1)" class="tk" text-anchor="end">50</text>
<text transform="translate(421.3 294.6) scale(0.9 1)" class="tk" text-anchor="end">100</text>
<text transform="translate(421.3 259.8) scale(0.9 1)" class="tk" text-anchor="end">150</text>
<text transform="translate(421.3 225) scale(0.9 1)" class="tk" text-anchor="end">200</text>
<path d="M466.13 360.7v-1.6 M507.56 360.7v-1.6 M548.99 360.7v-1.6 M590.41 360.7v-1.6 M631.84 360.7v-1.6 M673.27 360.7v-1.6 M714.7 360.7v-3.5 M424.7 325.9h3 M424.7 291.1h3 M424.7 256.3h3 M424.7 221.5h3" class="tkl"/>
<text x="573.9" y="213.9" class="lb" text-anchor="middle" textLength="61" lengthAdjust="spacingAndGlyphs">Sub-band 4</text>
<text x="560.35" y="390.3" class="lb" text-anchor="middle" textLength="42" lengthAdjust="spacingAndGlyphs">Time [s]</text>
<text transform="translate(391.7 305.05) rotate(-90)" class="lb" text-anchor="middle" textLength="75" lengthAdjust="spacingAndGlyphs">Frequency bin</text>
</svg>
</body></html>
